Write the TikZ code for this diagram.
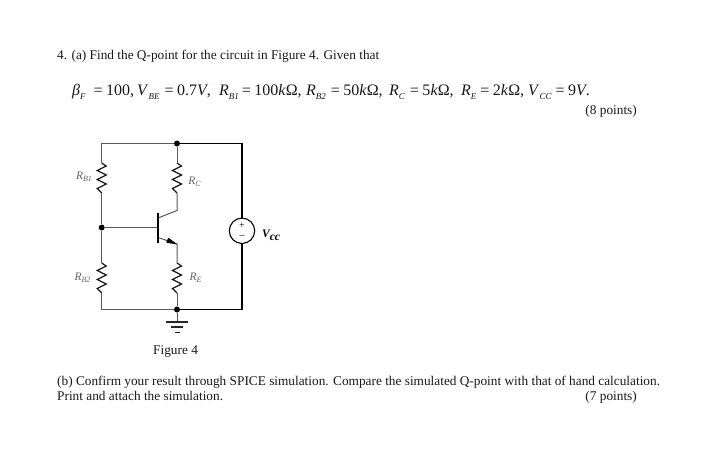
\documentclass[tikz,border=0pt]{standalone}
\usepackage{fontspec}
\setmainfont{Liberation Serif}
\usetikzlibrary{arrows.meta}
\newcommand{\sbs}[1]{\raisebox{-4pt}{\fontsize{9}{10}\selectfont\itshape #1}}
\newcommand{\vv}[1]{\textit{#1}}
\newcommand{\rlab}[2]{\fontsize{11.5}{11}\selectfont #1\fontsize{8}{8}\selectfont\raisebox{-1.8pt}{#2}}
\newcommand{\eqg}[1]{\hspace{#1pt}=\hspace{3.5pt}}
\tikzset{
  wire/.style={draw=black!65,line width=1pt},
  rwire/.style={draw=black!90,line width=1.2pt},
  hwire/.style={draw=black,line width=1.4pt},
  dotn/.style={circle,fill=black,inner sep=0pt,minimum size=6pt},
  txt/.style={anchor=base west,inner sep=0pt,font=\fontsize{13.3}{15}\selectfont,text=black!90},
  eqn/.style={anchor=base west,inner sep=0pt,font=\fontsize{16}{20}\selectfont,text=black!90},
  lab/.style={anchor=center,inner sep=0pt,font=\itshape,text=black!60},
  gnd/.style={line width=1.1pt,black!85},
  res/.pic={\draw[rwire] (0,0)--(4.5,3)--(-4.5,7.5)--(4.5,12)--(-4.5,16.5)--(4.5,21)--(-4.5,25.5)--(0,30);}
}
\begin{document}
\begin{tikzpicture}[x=1pt,y=-1pt]
\useasboundingbox (0,0) rectangle (715,461);
\fill[white] (0,0) rectangle (715,461);
% text
\node[txt] (t1) at (57,59) {4. (a) Find the Q-point for the circuit in Figure 4. Given that};
\node[eqn] (e1) at (72,95) {\vv{β}\sbs{F}\eqg{8}100,};
\node[eqn] (e2) at (137,95) {\vv{V}\sbs{BE}\eqg{5}0.7\vv{V},};
\node[eqn] (e3) at (219,95) {\vv{R}\sbs{B1}\eqg{3}100\vv{k}Ω,};
\node[eqn] (e4) at (306,95) {\vv{R}\sbs{B2}\eqg{5}50\vv{k}Ω,};
\node[eqn] (e5) at (389,95) {\vv{R}\sbs{C}\eqg{5}5\vv{k}Ω,};
\node[eqn] (e6) at (461,95) {\vv{R}\sbs{E}\eqg{4}2\vv{k}Ω,};
\node[eqn] (e7) at (528,95) {\vv{V}\sbs{CC}\eqg{4}9\vv{V}.};
\node[txt,anchor=base east] (p8) at (637,114) {(8 points)};
\node[txt] (fig) at (153,354) {Figure 4};
\node[txt] (b1) at (57,385) {(b) Confirm your result through SPICE simulation. Compare the simulated Q-point with that of hand calculation.};
\node[txt] (b2) at (57,400) {Print and attach the simulation.};
\node[txt,anchor=base east] (p7) at (637,400) {(7 points)};
% junctions
\node[dotn] (top) at (177,143.5) {};
\node[dotn] (bot) at (177,309.5) {};
\node[dotn] (bas) at (101.7,227.5) {};
\coordinate (tl) at (101.7,143.5);
\coordinate (bl) at (101.7,309.5);
\coordinate (tr) at (242,143.5);
\coordinate (br) at (242,309.5);
% resistors
\coordinate (rb1a) at (101.7,163); \coordinate (rb1b) at (101.7,193);
\coordinate (rb2a) at (101.7,263); \coordinate (rb2b) at (101.7,293);
\coordinate (rca) at (177,163); \coordinate (rcb) at (177,193);
\coordinate (rea) at (177,263); \coordinate (reb) at (177,293);
\pic at (rb1a) {res}; \pic at (rb2a) {res}; \pic at (rca) {res}; \pic at (rea) {res};
% wires
\draw[wire] (top)--(tl)--(rb1a);
\draw[wire] (rb1b)--(bas)--(rb2a);
\draw[wire] (rb2b)--(bl)--(bot);
\draw[wire] (top)--(rca);
\draw[wire] (bot)--(reb);
% transistor
\coordinate (ct) at (177,210.5);
\coordinate (et) at (177,244);
\coordinate (bc) at (158,218);
\coordinate (be) at (158,237.5);
\coordinate (bb) at (158,227.5);
\draw[wire] (bas)--(bb);
\draw[wire] (rcb)--(ct)--(bc);
\draw[wire] (be)--(et)--(rea);
\draw[line width=2pt,black] (158,213)--(158,243);
\draw[black,fill=black,line join=round] (176.5,244)--(166.5,242.5)--(168.5,238)--cycle;
% source
\node[circle,draw=black,line width=1.1pt,minimum size=25.4pt,inner sep=0pt] (vs) at (242,230.8) {};
\node[inner sep=0pt,font=\fontsize{10}{10}\selectfont] (plus) at (242,225.5) {+};
\node[inner sep=0pt,font=\fontsize{10}{10}\selectfont] (minus) at (242,237) {--};
\draw[hwire] (top)--(tr)--(vs.north);
\draw[hwire] (vs.south)--(br)--(bot);
% ground
\coordinate (g1) at (177,322);
\draw[wire] (bot)--(g1);
\draw[gnd] (166,322)--(188,322);
\draw[gnd] (171,327)--(183,327);
\draw[gnd] (175,332.5)--(180,332.5);
% labels
\node[lab] (l1) at (84,177) {\rlab{R}{B1}};
\node[lab] (l2) at (82.5,278) {\rlab{R}{B2}};
\node[lab] (l3) at (194.5,182) {\rlab{R}{C}};
\node[lab] (l4) at (195.5,278) {\rlab{R}{E}};
\node[anchor=base west,inner sep=0pt,font=\bfseries\itshape\fontsize{11.5}{11}\selectfont] (l5) at (262,237) {V\raisebox{-3pt}{cc}};
\end{tikzpicture}
\end{document}
